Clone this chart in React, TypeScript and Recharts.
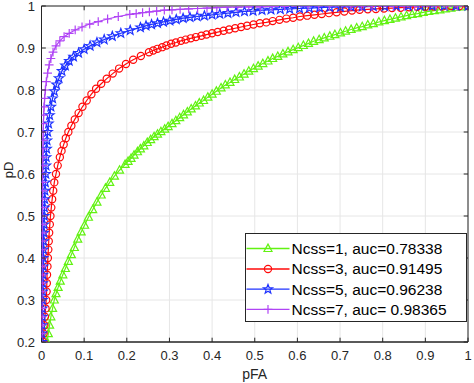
import React from 'react';
import { LineChart, Line, XAxis, YAxis, CartesianGrid, Legend, ReferenceArea } from 'recharts';

// [pFA, pD] pairs
const ncss1: number[][] = [
  [0.013,0.20],[0.016,0.22],[0.019,0.24],[0.022,0.26],[0.026,0.28],[0.030,0.30],[0.034,0.315],[0.039,0.33],
  [0.044,0.345],[0.050,0.36],[0.056,0.375],[0.063,0.392],[0.070,0.408],[0.077,0.425],[0.085,0.445],[0.093,0.462],
  [0.101,0.478],[0.110,0.497],[0.120,0.515],[0.130,0.533],[0.140,0.55],[0.150,0.566],[0.160,0.58],[0.171,0.595],
  [0.183,0.609],[0.196,0.623],[0.203,0.63],[0.210,0.637],[0.217,0.645],[0.225,0.653],[0.232,0.66],[0.240,0.667],
  [0.248,0.675],[0.256,0.682],[0.264,0.689],[0.272,0.695],[0.280,0.701],[0.289,0.707],[0.297,0.713],[0.306,0.72],
  [0.315,0.727],[0.324,0.734],[0.333,0.741],[0.342,0.748],[0.351,0.755],[0.361,0.762],[0.370,0.769],[0.380,0.775],
  [0.390,0.783],[0.400,0.79],[0.410,0.797],[0.421,0.805],[0.431,0.812],[0.442,0.818],[0.453,0.825],[0.464,0.831],
  [0.475,0.838],[0.486,0.845],[0.497,0.851],[0.508,0.857],[0.519,0.863],[0.531,0.869],[0.542,0.875],[0.554,0.88],
  [0.566,0.886],[0.578,0.891],[0.590,0.896],[0.602,0.901],[0.614,0.906],[0.626,0.911],[0.638,0.916],[0.651,0.92],
  [0.663,0.924],[0.676,0.928],[0.688,0.932],[0.701,0.936],[0.713,0.94],[0.726,0.944],[0.739,0.948],[0.752,0.951],
  [0.765,0.955],[0.778,0.958],[0.791,0.962],[0.804,0.965],[0.817,0.968],[0.830,0.971],[0.843,0.974],[0.856,0.977],
  [0.869,0.98],[0.882,0.982],[0.895,0.985],[0.908,0.987],[0.921,0.989],[0.934,0.991],[0.947,0.993],[0.960,0.995],
  [0.972,0.997],[0.985,0.998],[1.0,1.0],
];

const ncss3: number[][] = [
  [0.004,0.20],[0.005,0.22],[0.007,0.24],[0.008,0.26],[0.0095,0.28],[0.011,0.30],[0.012,0.32],[0.0125,0.34],
  [0.013,0.36],[0.014,0.38],[0.015,0.40],[0.016,0.42],[0.017,0.44],[0.018,0.46],[0.0195,0.48],[0.021,0.50],
  [0.023,0.52],[0.025,0.54],[0.0275,0.56],[0.030,0.58],[0.034,0.60],[0.038,0.62],[0.043,0.64],[0.047,0.655],
  [0.052,0.67],[0.057,0.685],[0.063,0.70],[0.070,0.715],[0.078,0.73],[0.087,0.745],[0.096,0.76],[0.106,0.775],
  [0.117,0.79],[0.128,0.803],[0.140,0.815],[0.153,0.827],[0.167,0.839],[0.182,0.851],[0.198,0.862],[0.215,0.872],
  [0.233,0.881],[0.252,0.89],[0.262,0.894],[0.272,0.898],[0.283,0.902],[0.293,0.906],[0.304,0.91],[0.315,0.913],
  [0.327,0.917],[0.338,0.92],[0.350,0.923],[0.362,0.926],[0.375,0.929],[0.387,0.932],[0.400,0.935],[0.413,0.938],
  [0.427,0.941],[0.440,0.944],[0.454,0.947],[0.468,0.95],[0.482,0.953],[0.497,0.956],[0.512,0.959],[0.527,0.961],
  [0.542,0.964],[0.558,0.967],[0.574,0.97],[0.590,0.972],[0.606,0.975],[0.623,0.977],[0.640,0.979],[0.657,0.981],
  [0.674,0.983],[0.692,0.985],[0.710,0.987],[0.728,0.989],[0.746,0.991],[0.765,0.992],[0.784,0.993],[0.803,0.994],
  [0.822,0.995],[0.842,0.996],[0.862,0.997],[0.881,0.998],[0.900,0.998],[0.920,0.999],[0.940,0.999],[0.960,1.0],
  [0.980,1.0],[1.0,1.0],
];

const ncss5: number[][] = [
  [0.001,0.20],[0.001,0.22],[0.0015,0.24],[0.002,0.26],[0.002,0.28],[0.0025,0.30],[0.003,0.32],[0.003,0.34],
  [0.0035,0.36],[0.004,0.38],[0.004,0.40],[0.0045,0.42],[0.005,0.44],[0.0055,0.46],[0.006,0.48],[0.0065,0.50],
  [0.007,0.52],[0.0075,0.54],[0.008,0.56],[0.009,0.58],[0.010,0.60],[0.0105,0.62],[0.011,0.64],[0.012,0.66],
  [0.013,0.68],[0.0145,0.70],[0.0165,0.72],[0.019,0.74],[0.022,0.76],[0.026,0.78],[0.030,0.797],[0.035,0.813],
  [0.041,0.828],[0.048,0.845],[0.056,0.858],[0.065,0.869],[0.075,0.879],[0.087,0.888],[0.100,0.897],[0.114,0.905],
  [0.130,0.913],[0.147,0.92],[0.166,0.928],[0.186,0.935],[0.208,0.942],[0.232,0.949],[0.245,0.953],[0.258,0.956],
  [0.272,0.959],[0.286,0.962],[0.301,0.965],[0.316,0.968],[0.332,0.971],[0.348,0.973],[0.365,0.975],[0.382,0.977],
  [0.400,0.979],[0.418,0.981],[0.437,0.983],[0.456,0.985],[0.476,0.987],[0.496,0.988],[0.517,0.99],[0.538,0.991],
  [0.560,0.992],[0.582,0.993],[0.605,0.994],[0.628,0.995],[0.652,0.996],[0.676,0.997],[0.701,0.997],[0.726,0.998],
  [0.752,0.998],[0.778,0.999],[0.805,0.999],[0.832,1.0],[0.860,1.0],[0.888,1.0],[0.916,1.0],[0.944,1.0],
  [0.972,1.0],[1.0,1.0],
];

const ncss7: number[][] = [
  [0.0005,0.20],[0.0006,0.22],[0.0007,0.24],[0.0008,0.26],[0.0009,0.28],[0.001,0.30],[0.0011,0.32],[0.0012,0.34],
  [0.0013,0.36],[0.0014,0.38],[0.0015,0.40],[0.0016,0.42],[0.0017,0.44],[0.0018,0.46],[0.0019,0.48],[0.002,0.50],
  [0.0021,0.52],[0.0022,0.54],[0.0024,0.56],[0.0026,0.58],[0.0028,0.60],[0.003,0.62],[0.0032,0.64],[0.0034,0.66],
  [0.0037,0.68],[0.004,0.70],[0.0045,0.72],[0.005,0.74],[0.006,0.76],[0.0073,0.78],[0.009,0.80],[0.0113,0.82],
  [0.0143,0.84],[0.018,0.86],[0.022,0.875],[0.027,0.89],[0.034,0.905],[0.043,0.917],[0.053,0.927],[0.065,0.935],
  [0.079,0.943],[0.095,0.95],[0.113,0.957],[0.133,0.963],[0.155,0.969],[0.180,0.975],[0.207,0.98],[0.222,0.982],
  [0.237,0.984],[0.253,0.986],[0.270,0.988],[0.288,0.99],[0.306,0.991],[0.325,0.992],[0.345,0.993],[0.366,0.994],
  [0.388,0.995],[0.411,0.996],[0.435,0.997],[0.460,0.997],[0.486,0.998],[0.513,0.998],[0.541,0.999],[0.570,0.999],
  [0.600,1.0],[0.625,1.0],[0.650,1.0],[0.675,1.0],[0.700,1.0],[0.725,1.0],[0.750,1.0],[0.775,1.0],
  [0.800,1.0],[0.825,1.0],[0.850,1.0],[0.875,1.0],[0.900,1.0],[0.925,1.0],[0.950,1.0],[0.975,1.0],[1.0,1.0],
];

const seriesNames = ['Ncss=1, auc=0.78338', 'Ncss=3, auc=0.91495', 'Ncss=5, auc=0.96238', 'Ncss=7, auc= 0.98365'];
const xTicks = [0, 0.1, 0.2, 0.3, 0.4, 0.5, 0.6, 0.7, 0.8, 0.9, 1];
const yTicks = [0.2, 0.3, 0.4, 0.5, 0.6, 0.7, 0.8, 0.9, 1];
const xLabel = 'pFA';
const yLabel = 'pD';

const W = 474;
const H = 383;
const M = { top: 6, right: 6, left: 0, bottom: 0 };
const Y_AXIS_W = 41.5;
const X_AXIS_H = 41;
const PLOT_W = W - M.left - M.right - Y_AXIS_W;
const PLOT_H = H - M.top - M.bottom - X_AXIS_H;
const AXIS_COLOR = '#262626';
const FONT = '"Liberation Sans", Arial, Helvetica, sans-serif';
const TICK_LEN = 4.3;

type MarkerKind = 'triangle' | 'circle' | 'star' | 'plus';

function Marker({ kind, cx, cy, color }: { kind: MarkerKind; cx: number; cy: number; color: string }) {
  if (cx == null || cy == null || isNaN(cx) || isNaN(cy)) return null;
  if (kind === 'triangle') {
    const s = 4;
    const pts = `${cx},${cy - s * 1.1} ${cx - s},${cy + s * 0.75} ${cx + s},${cy + s * 0.75}`;
    return <polygon points={pts} fill="none" stroke={color} strokeWidth={1.2} />;
  }
  if (kind === 'circle') {
    return <circle cx={cx} cy={cy} r={3.6} fill="none" stroke={color} strokeWidth={1.2} />;
  }
  if (kind === 'star') {
    const ro = 4.8;
    const ri = 2.0;
    const pts: string[] = [];
    for (let i = 0; i < 10; i++) {
      const r = i % 2 === 0 ? ro : ri;
      const a = -Math.PI / 2 + (i * Math.PI) / 5;
      pts.push(`${cx + r * Math.cos(a)},${cy + r * Math.sin(a)}`);
    }
    return <polygon points={pts.join(' ')} fill="none" stroke={color} strokeWidth={1.2} />;
  }
  const h = 4.4;
  return (
    <g stroke={color} strokeWidth={1.2}>
      <line x1={cx - h} y1={cy} x2={cx + h} y2={cy} />
      <line x1={cx} y1={cy - h} x2={cx} y2={cy + h} />
    </g>
  );
}

const series = [
  { name: seriesNames[0], data: ncss1, color: '#62f212', marker: 'triangle' as MarkerKind },
  { name: seriesNames[1], data: ncss3, color: '#ff0a0a', marker: 'circle' as MarkerKind },
  { name: seriesNames[2], data: ncss5, color: '#1f33ff', marker: 'star' as MarkerKind },
  { name: seriesNames[3], data: ncss7, color: '#b044f5', marker: 'plus' as MarkerKind },
];

const XTick = (props: any) => {
  const { x, y, payload } = props;
  return (
    <g>
      <line x1={x} y1={y} x2={x} y2={y - TICK_LEN} stroke={AXIS_COLOR} strokeWidth={1} />
      <line x1={x} y1={y - PLOT_H} x2={x} y2={y - PLOT_H + TICK_LEN} stroke={AXIS_COLOR} strokeWidth={1} />
      <text x={x} y={y + 18} textAnchor="middle" fontSize={13} fill={AXIS_COLOR} fontFamily={FONT}>
        {String(payload.value)}
      </text>
    </g>
  );
};

const YTick = (props: any) => {
  const { x, y, payload } = props;
  return (
    <g>
      <line x1={x} y1={y} x2={x + TICK_LEN} y2={y} stroke={AXIS_COLOR} strokeWidth={1} />
      <line x1={x + PLOT_W} y1={y} x2={x + PLOT_W - TICK_LEN} y2={y} stroke={AXIS_COLOR} strokeWidth={1} />
      <text x={x - 6.5} y={y + 4.6} textAnchor="end" fontSize={13} fill={AXIS_COLOR} fontFamily={FONT}>
        {String(payload.value)}
      </text>
    </g>
  );
};

const LegendBox = () => {
  const rows = [15.5, 36, 56.2, 76.4];
  return (
    <svg width={222} height={89} style={{ display: 'block' }}>
      <rect x={0.5} y={0.5} width={221} height={88} fill="#ffffff" stroke={AXIS_COLOR} strokeWidth={1} />
      {series.map((s, i) => (
        <g key={s.name}>
          <line x1={1.5} y1={rows[i]} x2={44.5} y2={rows[i]} stroke={s.color} strokeWidth={1.3} />
          <Marker kind={s.marker} cx={23} cy={rows[i]} color={s.color} />
          <text x={46.5} y={rows[i] + 5.4} fontSize={15.5} fill="#000" fontFamily={FONT}>
            {s.name}
          </text>
        </g>
      ))}
    </svg>
  );
};

export default function App() {
  return (
    <div style={{ position: 'absolute', left: 0, top: 0, width: W, height: H, background: '#fff' }}>
      <LineChart width={W} height={H} margin={M}>
        <CartesianGrid stroke="#e6e6e6" strokeWidth={1} />
        <XAxis
          type="number"
          dataKey="x"
          domain={[0, 1]}
          ticks={xTicks}
          allowDataOverflow
          height={X_AXIS_H}
          tickSize={0}
          tickMargin={0}
          tickLine={false}
          axisLine={{ stroke: AXIS_COLOR, strokeWidth: 1 }}
          tick={<XTick />}
          interval={0}
          label={(p: any) => {
            const vb = p.viewBox || {};
            return (
              <text x={vb.x + vb.width / 2} y={vb.y + 37} textAnchor="middle" fontSize={14} fill={AXIS_COLOR} fontFamily={FONT}>
                {xLabel}
              </text>
            );
          }}
        />
        <YAxis
          type="number"
          domain={[0.2, 1]}
          ticks={yTicks}
          allowDataOverflow
          width={Y_AXIS_W}
          tickSize={0}
          tickMargin={0}
          tickLine={false}
          axisLine={{ stroke: AXIS_COLOR, strokeWidth: 1 }}
          tick={<YTick />}
          interval={0}
          label={(p: any) => {
            const vb = p.viewBox || {};
            const cy = vb.y + vb.height / 2 - 4;
            return (
              <text x={12.5} y={cy} transform={`rotate(-90, 12.5, ${cy})`} textAnchor="middle" fontSize={13} fill={AXIS_COLOR} fontFamily={FONT}>
                {yLabel}
              </text>
            );
          }}
        />
        <ReferenceArea x1={0} x2={1} y1={0.2} y2={1} fill="none" stroke={AXIS_COLOR} strokeWidth={1} ifOverflow="visible" />
        {series.map((s) => (
          <Line
            key={s.name}
            name={s.name}
            data={s.data.map(([x, y]) => ({ x, y }))}
            dataKey="y"
            stroke={s.color}
            strokeWidth={1.2}
            isAnimationActive={false}
            dot={(p: any) => <Marker key={`${s.name}-${p.index}`} kind={s.marker} cx={p.cx} cy={p.cy} color={s.color} />}
            activeDot={false}
          />
        ))}
        <Legend
          layout="vertical"
          align="center"
          verticalAlign="middle"
          content={() => <LegendBox />}
          wrapperStyle={{ left: 245, top: 233, width: 222, height: 89, margin: 0, padding: 0 }}
        />
      </LineChart>
    </div>
  );
}
